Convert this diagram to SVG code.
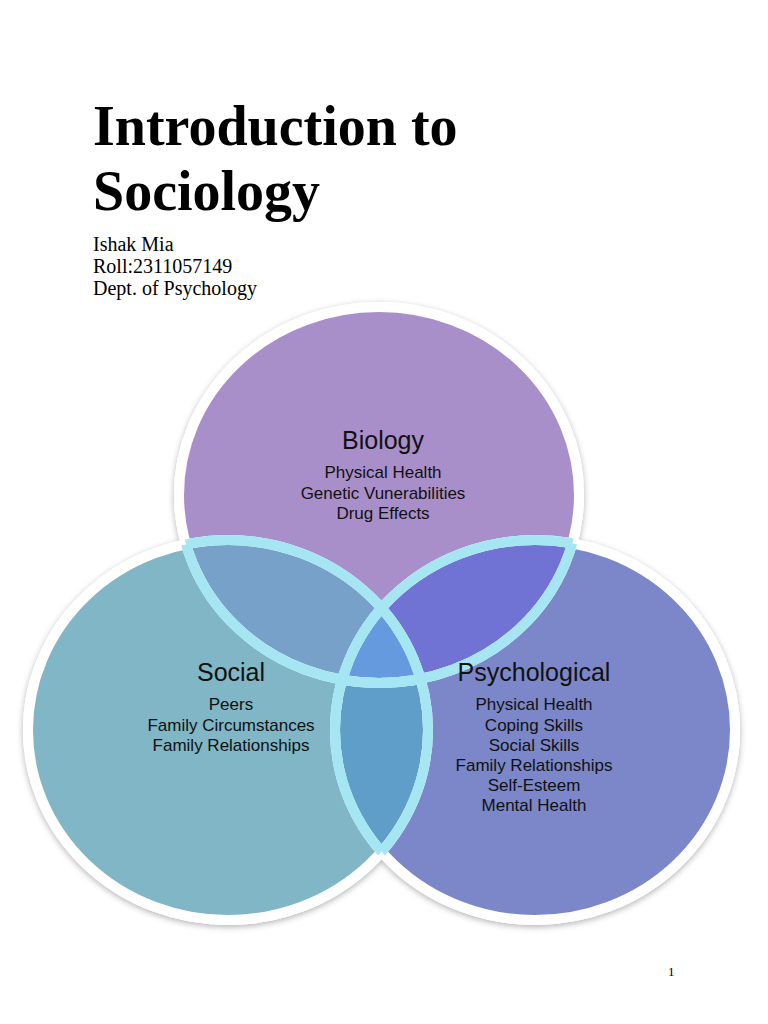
<svg xmlns="http://www.w3.org/2000/svg" width="768" height="1024" viewBox="0 0 768 1024">
<style>
.t{font-family:"Liberation Serif",serif;fill:#000}
.h{font-size:56px;font-weight:bold}
.s{font-size:20px}
.l{font-family:"Liberation Sans",Arial,sans-serif;text-anchor:middle;fill:#111}
.hd{font-size:25px}
.it{font-size:17px}
.ws{fill:none;stroke:#fff;stroke-width:10}
.cs{fill:none;stroke:#a6e6f2;stroke-width:10}
</style>
<defs>
<ellipse id="eb" cx="379" cy="495" rx="200" ry="188"/>
<ellipse id="es" cx="228" cy="730" rx="200" ry="190"/>
<ellipse id="ep" cx="535" cy="730" rx="200" ry="190"/>
<clipPath id="cb"><use href="#eb"/></clipPath>
<clipPath id="cs"><use href="#es"/></clipPath>
<clipPath id="cp"><use href="#ep"/></clipPath>
<filter id="sh" x="-10%" y="-10%" width="120%" height="120%"><feDropShadow dx="0" dy="2" stdDeviation="3" flood-color="#000" flood-opacity="0.3"/></filter>
</defs>
<rect width="768" height="1024" fill="#fff"/>
<text class="t h" x="93" y="145">Introduction to</text>
<text class="t h" x="93" y="210">Sociology</text>
<text class="t s" x="93" y="251">Ishak Mia</text>
<text class="t s" x="93" y="273">Roll:2311057149</text>
<text class="t s" x="93" y="295">Dept. of Psychology</text>
<g id="shadows" filter="url(#sh)">
<use href="#eb" fill="#fff" stroke="#fff" stroke-width="10"/>
<use href="#es" fill="#fff" stroke="#fff" stroke-width="10"/>
<use href="#ep" fill="#fff" stroke="#fff" stroke-width="10"/>
</g>
<g id="biology"><use href="#eb" fill="#a98fca"/></g>
<g id="social"><use href="#es" fill="#80b6c5"/></g>
<g id="psychological"><use href="#ep" fill="#7b87c8"/></g>
<g id="overlaps">
<g clip-path="url(#cb)"><use href="#es" fill="#78a1c9"/><use href="#ep" fill="#7072d4"/></g>
<g clip-path="url(#cs)"><use href="#ep" fill="#5f9ec9"/></g>
<g clip-path="url(#cb)"><g clip-path="url(#cs)"><use href="#ep" fill="#659ade"/></g></g>
</g>
<g id="borders">
<use href="#eb" class="ws"/><use href="#es" class="ws"/><use href="#ep" class="ws"/>
<g clip-path="url(#cs)"><use href="#eb" class="cs"/><use href="#ep" class="cs"/></g>
<g clip-path="url(#cp)"><use href="#eb" class="cs"/><use href="#es" class="cs"/></g>
<g clip-path="url(#cb)"><use href="#es" class="cs"/><use href="#ep" class="cs"/></g>
</g>
<g id="labels">
<text class="l hd" x="383" y="449">Biology</text>
<text class="l it" x="383" y="478">Physical Health</text>
<text class="l it" x="383" y="499">Genetic Vunerabilities</text>
<text class="l it" x="383" y="519">Drug Effects</text>
<text class="l hd" x="231" y="681">Social</text>
<text class="l it" x="231" y="710">Peers</text>
<text class="l it" x="231" y="731">Family Circumstances</text>
<text class="l it" x="231" y="751">Family Relationships</text>
<text class="l hd" x="534" y="681">Psychological</text>
<text class="l it" x="534" y="710">Physical Health</text>
<text class="l it" x="534" y="731">Coping Skills</text>
<text class="l it" x="534" y="751">Social Skills</text>
<text class="l it" x="534" y="771">Family Relationships</text>
<text class="l it" x="534" y="791">Self-Esteem</text>
<text class="l it" x="534" y="811">Mental Health</text>
</g>
<text class="t" x="668" y="976" font-size="13">1</text>
</svg>
